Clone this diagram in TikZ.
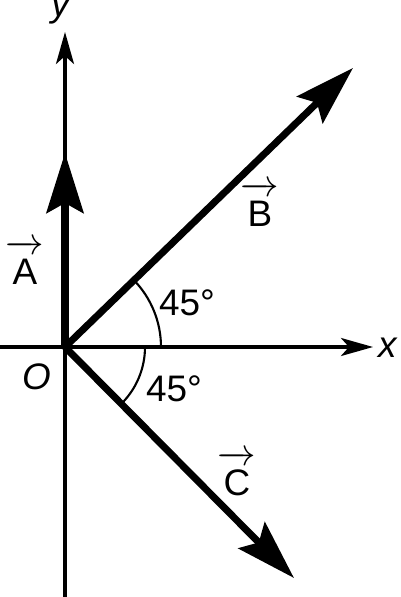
\documentclass[tikz,border=0pt]{standalone}
\usepackage{fontspec}
\setmainfont{Liberation Sans}
\usetikzlibrary{arrows.meta}
\tikzset{
  axis/.style={line width=1pt, -{Stealth[length=0.32cm, width=0.18cm, inset=0.08cm]}},
  vec/.style={line width=2pt, -{Stealth[length=0.6cm, width=0.37cm, inset=0.1cm]}},
  anglearc/.style={line width=0.6pt},
  lbl/.style={inner sep=0pt, font=\fontsize{10.5}{12}\selectfont}
}
\newcommand{\vecl}[1]{$\overrightarrow{\hbox{\rule{0pt}{9.3pt}#1}}$}

\begin{document}
\begin{tikzpicture}
			%%%%% START %%%%%
			\useasboundingbox (-0.65, -2.50) rectangle (3.35, 3.47);
			
			\coordinate (O) at (0, 0);
			\coordinate (ybot) at (0, -2.50);
			\coordinate (ytop) at (0, 3.15);
			\coordinate (xleft) at (-0.65, 0);
			\coordinate (xright) at (3.08, 0);
			\coordinate (Atip) at (0, 1.94);
			\coordinate (Btip) at (2.88, 2.79);
			\coordinate (Ctip) at (2.29, -2.31);
			
			\draw[axis] (ybot) -- (ytop);
			\draw[axis] (xleft) -- (xright);
			
			\draw[vec] (O) -- (Atip);
			\draw[vec] (O) -- (Btip);
			\draw[vec] (O) -- (Ctip);
			
			\draw[anglearc] (0.96, 0) arc (0:44:0.96);
			\draw[anglearc] (0.80, 0) arc (0:-45:0.80);
			
			\node[lbl] (ylabel) at (-0.03, 3.36) {\textit{y}};
			\node[lbl] (xlabel) at (3.23, -0.01) {\textit{x}};
			\node[lbl] (olabel) at (-0.28, -0.30) {\textit{O}};
			
			\node[lbl, anchor=base] (alabel) at (-0.40, 0.63) {\vecl{A}};
			\node[lbl, anchor=base] (blabel) at (1.95, 1.21) {\vecl{B}};
			\node[lbl, anchor=base] (clabel) at (1.72, -1.48) {\vecl{C}};
			
			\node[lbl] (angb) at (1.22, 0.44) {45°};
			\node[lbl] (angc) at (1.09, -0.42) {45°};
			%%%%% END %%%%%
\end{tikzpicture}
\end{document}
